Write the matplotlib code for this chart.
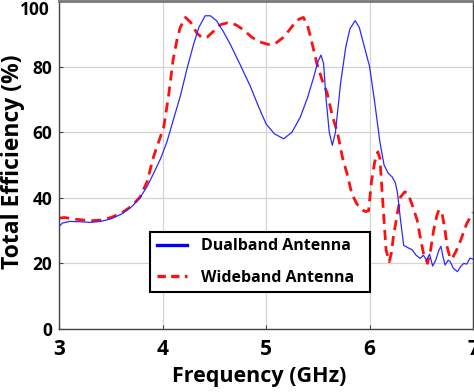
import matplotlib
matplotlib.use("Agg")
import matplotlib.pyplot as plt
from matplotlib.lines import Line2D

plt.rcParams['font.family'] = ['Open Sans', 'DejaVu Sans']
plt.rcParams['font.weight'] = 'bold'

# Dualband antenna (blue solid)
dual_f = [3.00, 3.03, 3.10, 3.20, 3.30, 3.40, 3.50, 3.60, 3.70, 3.78, 3.85, 3.92, 3.98,
          4.04, 4.10, 4.17, 4.24, 4.30, 4.35, 4.41, 4.46, 4.52, 4.58, 4.65, 4.75, 4.85,
          4.93, 5.00, 5.08, 5.17, 5.25, 5.33, 5.40, 5.46, 5.50, 5.53, 5.555, 5.58, 5.61,
          5.64, 5.67, 5.72, 5.77, 5.81, 5.86, 5.90, 5.95, 6.00, 6.05, 6.10, 6.14, 6.18,
          6.22, 6.25, 6.27, 6.30, 6.33, 6.37, 6.41, 6.45, 6.49, 6.52, 6.55, 6.58, 6.61,
          6.64, 6.67, 6.69, 6.71, 6.73, 6.76, 6.78, 6.81, 6.85, 6.88, 6.91, 6.94, 6.97, 7.00]
dual_eff = [31.3, 32.3, 32.8, 32.7, 32.5, 32.8, 33.6, 35.0, 37.3, 40.0, 43.5, 48.0, 52.0,
            57.0, 63.5, 71.0, 80.0, 87.0, 92.0, 95.5, 95.5, 94.0, 91.0, 87.0, 80.5, 73.8,
            67.5, 62.5, 59.5, 58.0, 60.0, 64.6, 70.5, 76.8, 81.5, 83.5, 81.0, 70.0, 60.0,
            56.0, 60.0, 75.0, 86.0, 91.5, 94.0, 92.0, 86.0, 80.0, 69.0, 57.0, 50.0, 47.5,
            46.3, 44.5, 41.5, 33.0, 25.5, 24.8, 24.2, 22.5, 21.5, 22.5, 21.0, 22.8, 19.2,
            21.0, 24.0, 25.2, 22.0, 19.5, 21.0, 20.5, 18.5, 17.5, 19.0, 20.0, 19.8, 21.6, 21.3]

# Wideband antenna (red dashed)
wide_f = [3.00, 3.05, 3.15, 3.30, 3.40, 3.50, 3.60, 3.70, 3.78, 3.85, 3.91, 3.96, 4.01,
          4.06, 4.10, 4.14, 4.17, 4.22, 4.27, 4.33, 4.38, 4.43, 4.50, 4.56, 4.62, 4.67,
          4.72, 4.78, 4.86, 4.94, 5.04, 5.10, 5.17, 5.24, 5.30, 5.36, 5.40, 5.43, 5.49,
          5.54, 5.59, 5.64, 5.69, 5.74, 5.78, 5.83, 5.88, 5.93, 5.96, 5.99, 6.02, 6.05,
          6.08, 6.10, 6.12, 6.14, 6.16, 6.19, 6.21, 6.23, 6.27, 6.30, 6.34, 6.37, 6.41,
          6.46, 6.49, 6.52, 6.56, 6.59, 6.62, 6.65, 6.67, 6.70, 6.73, 6.75, 6.78, 6.80,
          6.84, 6.88, 6.94, 7.00]
wide_eff = [33.8, 34.0, 33.5, 33.0, 33.2, 34.0, 35.3, 37.5, 40.2, 45.0, 52.4, 57.0, 61.6,
            71.9, 82.0, 88.5, 92.0, 95.0, 93.5, 90.2, 88.8, 89.0, 91.0, 92.8, 93.3, 93.3,
            92.5, 91.2, 89.0, 87.5, 86.6, 87.3, 89.0, 91.8, 94.2, 95.0, 92.5, 89.0, 81.0,
            76.0, 71.9, 65.0, 59.8, 52.0, 47.6, 41.0, 38.0, 36.3, 35.8, 36.0, 45.4, 51.0,
            54.0, 52.0, 42.4, 33.0, 24.0, 20.5, 23.0, 28.0, 35.5, 40.3, 41.8, 41.4, 38.0,
            33.2, 28.0, 23.2, 20.0, 24.0, 30.2, 34.5, 36.3, 35.4, 30.0, 25.0, 21.5, 21.5,
            24.0, 27.0, 32.2, 35.5]

x_ticks = [3, 4, 5, 6, 7]
y_ticks = [0, 20, 40, 60, 80, 100]
y_ticklabels = ['0', '20', '40', '60', '80', '']
top_label = '100'
legend_labels = ['Dualband Antenna', 'Wideband Antenna']

fig = plt.figure(figsize=(4.74, 3.92), dpi=100)
ax = fig.add_axes([59.3 / 474, 63 / 392, 413.7 / 474, 328 / 392])

blue = '#2a2aff'
red = '#ff1010'
ax.plot(dual_f, dual_eff, color=blue, lw=0.9, zorder=3)
ax.plot(wide_f, wide_eff, color=red, lw=2.0, linestyle=(0, (3.6, 2.2)), zorder=2)

ax.set_xlim(3, 7)
ax.set_ylim(0, 100)
ax.set_xticks(x_ticks)
ax.set_yticks(y_ticks)
ax.set_yticklabels(y_ticklabels)
ax.grid(True, color='#d4d4d4', lw=0.9)
ax.set_axisbelow(True)
ax.tick_params(direction='in', length=3, color='#444444')
ax.tick_params(axis='x', labelsize=15, pad=7)
ax.tick_params(axis='y', labelsize=12.5, pad=5)
for lab in ax.get_xticklabels() + ax.get_yticklabels():
    lab.set_fontweight('bold')
for s in ax.spines.values():
    s.set_color('#444444')
    s.set_linewidth(1.0)
ax.spines['top'].set_color('#777777')
ax.spines['top'].set_linewidth(2.0)

# top tick label, shifted down (the reference figure is cropped at the top)
ax.annotate(top_label, xy=(0, y_ticks[-1]), xycoords=('axes fraction', 'data'),
            xytext=(-6.6, -6.5), textcoords='offset points', ha='right', va='center',
            fontsize=12.5, fontweight='bold')

ax.set_xlabel('Frequency (GHz)', fontsize=15.5, fontweight='bold')
ax.xaxis.set_label_coords(0.483, -0.113)
ax.set_ylabel('Total Efficiency (%)', fontsize=16.5, fontweight='bold')
ax.yaxis.set_label_coords(-0.084, 0.511)

handles = [Line2D([], [], color='#0000ff', lw=2.4),
           Line2D([], [], color=red, lw=2.4, linestyle=(0, (2.5, 1.6)))]
leg = ax.legend(handles, legend_labels, loc='upper left',
                bbox_to_anchor=(0.219, 0.117, 0.532, 0.180), mode='expand',
                borderaxespad=0, prop={'weight': 'bold', 'size': 11.5},
                frameon=True, fancybox=False, framealpha=1, edgecolor='black',
                handlelength=1.9, handletextpad=0.85, labelspacing=0.95, borderpad=0.43)
leg.get_frame().set_linewidth(1.5)

fig.savefig('out.png', dpi=100)
